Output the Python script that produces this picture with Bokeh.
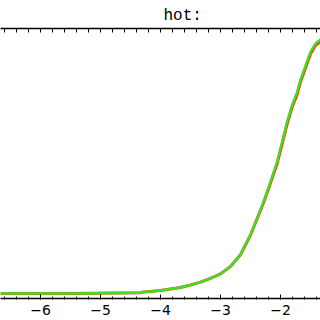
from bokeh.plotting import figure
from bokeh.models import LinearAxis, FixedTicker, Range1d
from bokeh.embed import file_html
from bokeh.resources import INLINE

# data
x_vals = [-6.667, -5.5, -4.333, -4.28, -4.0, -3.667, -3.5, -3.333, -3.167,
          -3.0, -2.833, -2.667, -2.5, -2.367, -2.283, -2.167, -2.055, -1.972,
          -1.889, -1.805, -1.722, -1.667, -1.5, -1.417, -1.333]
green_y = [0.0, 0.0, 0.003, 0.006, 0.012, 0.024, 0.034, 0.045, 0.060,
           0.077, 0.107, 0.155, 0.234, 0.313, 0.365, 0.444, 0.524, 0.603,
           0.683, 0.750, 0.800, 0.849, 0.960, 0.992, 1.008]
red_y = [0.0, 0.0, 0.003, 0.006, 0.012, 0.024, 0.034, 0.045, 0.060,
         0.078, 0.107, 0.154, 0.232, 0.310, 0.360, 0.438, 0.516, 0.594,
         0.673, 0.740, 0.790, 0.839, 0.950, 0.984, 1.000]
major_ticks = [-6, -5, -4, -3, -2]
tick_labels = {-6: "\u22126", -5: "\u22125", -4: "\u22124", -3: "\u22123", -2: "\u22122"}
title_text = "hot:"

p = figure(width=320, height=320, output_backend="svg", toolbar_location=None,
           x_range=Range1d(-6.6667, -1.3333), y_range=Range1d(-0.0198, 1.0516),
           x_axis_location=None, y_axis_location=None,
           min_border_left=0, min_border_right=0, min_border_top=0, min_border_bottom=0,
           frame_width=320, frame_height=270)
p.outline_line_color = None
p.grid.visible = False

p.title.text = title_text
p.title.text_font = "Liberation Mono"
p.title.text_font_size = "16px"
p.title.text_font_style = "normal"
p.title.text_color = "black"
p.title.align = "left"
p.title.offset = 163
p.title.standoff = 8

minor = [round(-6.6 + 0.2 * i, 2) for i in range(27)]

bottom = LinearAxis(ticker=FixedTicker(ticks=major_ticks, minor_ticks=minor))
bottom.major_label_overrides = tick_labels
bottom.major_tick_in = 4
bottom.major_tick_out = 1
bottom.minor_tick_in = 2
bottom.minor_tick_out = 1
bottom.axis_line_width = 1.5
bottom.major_label_text_font = "DejaVu Sans"
bottom.major_label_text_font_size = "14px"
bottom.major_label_text_color = "black"
bottom.major_label_standoff = 5
p.add_layout(bottom, "below")

top = LinearAxis(ticker=FixedTicker(ticks=[], minor_ticks=minor))
top.minor_tick_in = 4
top.minor_tick_out = 0
top.major_tick_out = 0
top.axis_line_width = 1.5
top.major_label_standoff = 0
p.add_layout(top, "above")

p.line(x_vals, red_y, line_color="#e0501a", line_width=3)
p.line(x_vals, green_y, line_color="#44dd22", line_width=2.4)

open("out.html", "w").write(file_html(p, INLINE))
